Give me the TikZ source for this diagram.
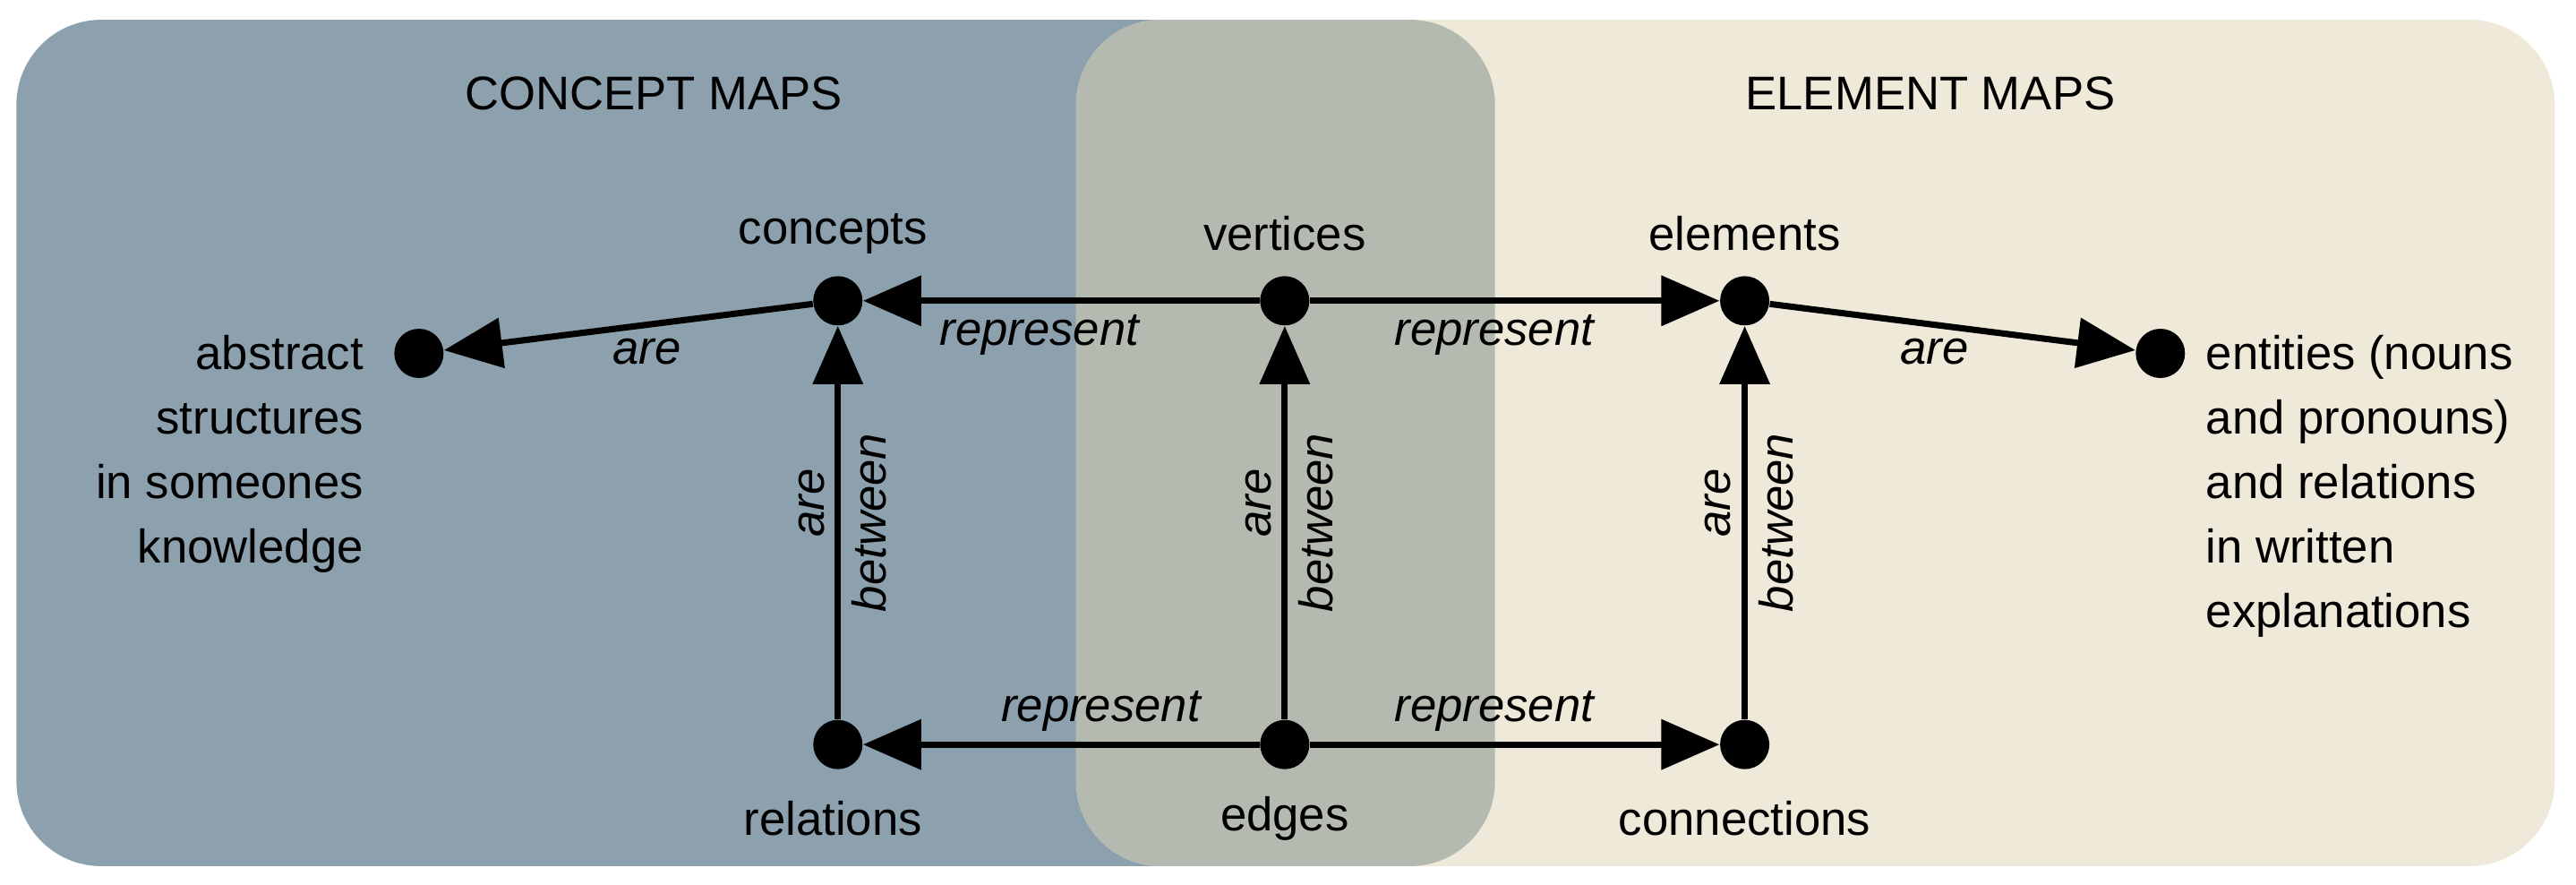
\documentclass[tikz,border=0pt]{standalone}
\usepackage{fontspec}
\setmainfont{Liberation Sans}
\usetikzlibrary{arrows.meta}
\definecolor{cmap}{HTML}{8CA1AD}
\definecolor{emap}{HTML}{EFE9D9}
\definecolor{both}{HTML}{B5BAB0}
\begin{document}
\begin{tikzpicture}[x=0.01835cm,y=-0.01835cm,
  dot/.style={circle,fill=black,inner sep=0pt,minimum size=0.55cm},
  lbl/.style={font=\fontsize{15}{19}\selectfont},
  lab/.style={font=\fontsize{15}{19}\selectfont\itshape},
  arr/.style={line width=2pt,-{Triangle[length=0.65cm,width=0.55cm]}}]
  \useasboundingbox (0,0) rectangle (1568,538);
  % backgrounds
  \fill[cmap,rounded corners=0.95cm] (10,12) rectangle (910,527);
  \fill[emap,rounded corners=0.95cm] (655,12) rectangle (1555,527);
  \begin{scope}
    \clip[rounded corners=0.95cm] (10,12) rectangle (910,527);
    \fill[both,rounded corners=0.95cm] (655,12) rectangle (1555,527);
  \end{scope}
  \node[lbl] (t1) at (398,57) {CONCEPT MAPS};
  \node[lbl] (t2) at (1175,57) {ELEMENT MAPS};
  % dots
  \node[dot] (concepts) at (510,183) {};
  \node[dot] (abstract) at (255,215) {};
  \node[dot] (vertices) at (782,183) {};
  \node[dot] (elements) at (1062,183) {};
  \node[dot] (entities) at (1315,215) {};
  \node[dot] (relations) at (510,453) {};
  \node[dot] (edges) at (782,453) {};
  \node[dot] (connections) at (1062,453) {};
  % labels
  \node[lbl] (lc) at (507,142) {concepts};
  \node[lbl] (lv) at (782,142) {vertices};
  \node[lbl] (le) at (1062,142) {elements};
  \node[lbl] (lr) at (507,498) {relations};
  \node[lbl] (led) at (782,498) {edges};
  \node[lbl] (lco) at (1062,498) {connections};
  \node[lbl,anchor=north east,align=right,font=\fontsize{15}{20.5}\selectfont] (la) at (228,197)
    {abstract\\structures\\in someones\\knowledge};
  \node[lbl,anchor=north west,align=left,font=\fontsize{15}{20.5}\selectfont] (len) at (1336,197)
    {entities (nouns\\and pronouns)\\and relations\\in written\\explanations};
  % connectors
  \draw[arr] (concepts) -- node[lab,below,pos=0.45] {are} (abstract);
  \draw[arr] (vertices) -- node[lab,below left,pos=0.45,xshift=0.8cm] {represent} (concepts);
  \draw[arr] (vertices) -- node[lab,below,pos=0.45] {represent} (elements);
  \draw[arr] (elements) -- node[lab,below,pos=0.45] {are} (entities);
  \draw[arr] (edges) -- node[lab,above,pos=0.4] {represent} (relations);
  \draw[arr] (edges) -- node[lab,above,pos=0.45] {represent} (connections);
  \foreach \a/\b in {relations/concepts,edges/vertices,connections/elements}{
    \draw[arr] (\a) -- node[lab,rotate=90,above,pos=0.55] {are}
      node[lab,rotate=90,below,pos=0.5] {between} (\b);
  }
\end{tikzpicture}
\end{document}
